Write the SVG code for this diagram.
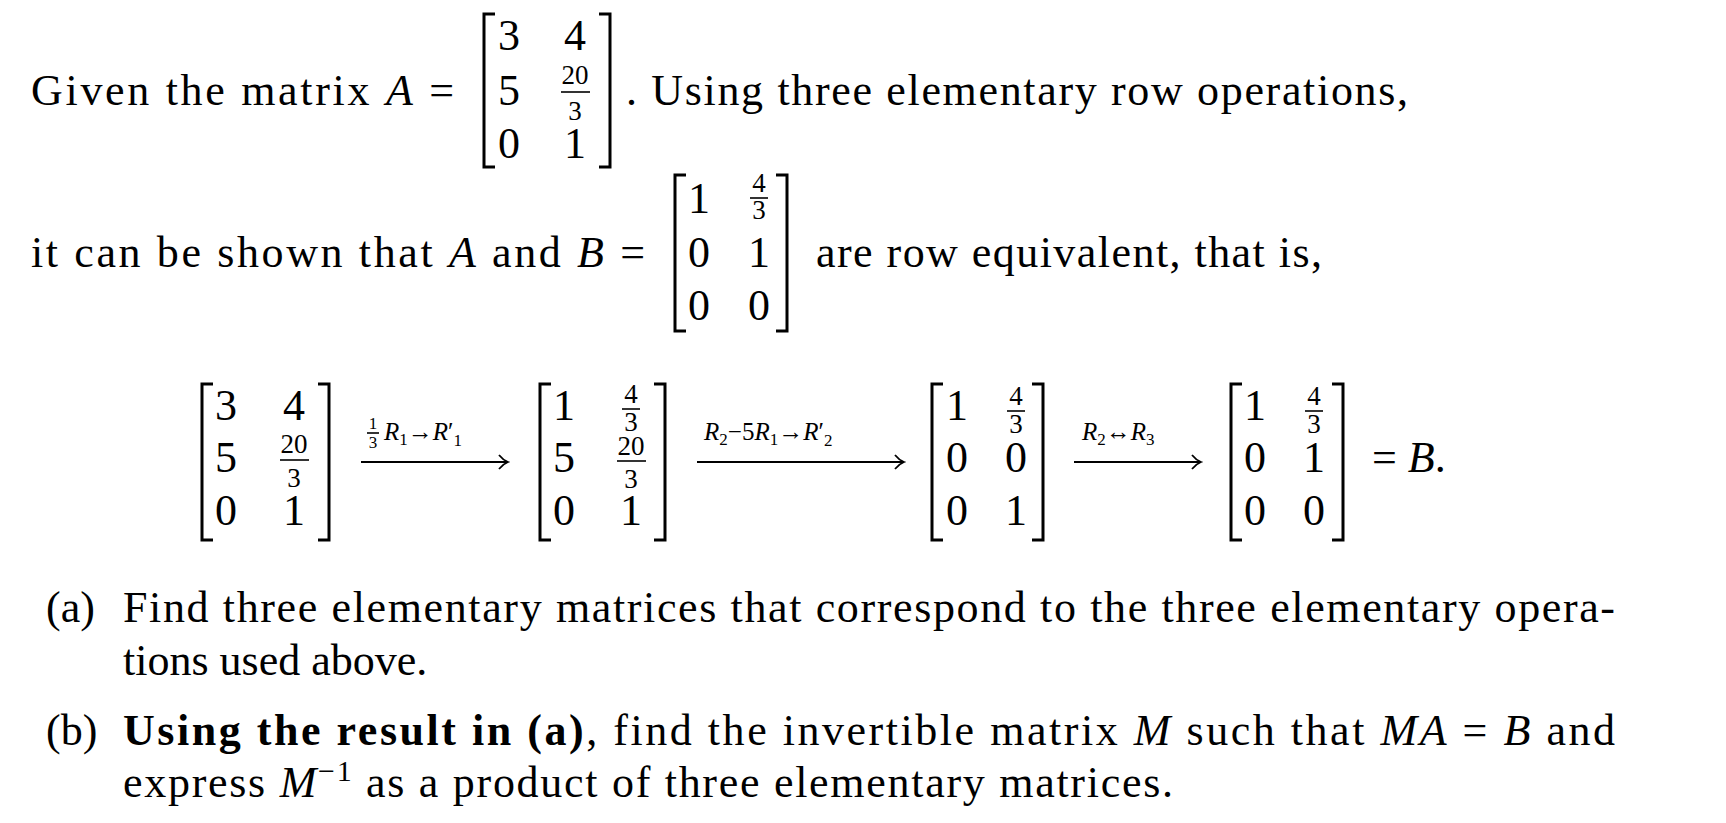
<svg xmlns="http://www.w3.org/2000/svg" width="1726" height="823" viewBox="0 0 1726 823">
<style>
text{font-family:"Liberation Serif","DejaVu Serif",serif;font-size:44px;fill:#000}
.m{text-anchor:middle}
.s{font-size:27px}
.l{font-size:25px}
.t{font-size:17px}
.i{font-style:italic}
.b{font-weight:bold}
.br{fill:none;stroke:#000;stroke-width:3}
.fl{stroke:#000;stroke-width:1.6}
.ar{fill:none;stroke:#000;stroke-width:1.8}
</style>
<rect width="1726" height="823" fill="#fff"/>
<g id="line1">
<text x="31" y="105" textLength="423" lengthAdjust="spacing">Given the matrix <tspan class="i">A</tspan> =</text>
<path class="br" d="M495,14H484V167H495M599,14H610V167H599"/>
<text class="m" x="509" y="50">3</text><text class="m" x="575" y="50">4</text>
<text class="m" x="509" y="105">5</text>
<text class="m s" x="575" y="84">20</text><line class="fl" x1="561" y1="92" x2="590" y2="92"/><text class="m s" x="575" y="120">3</text>
<text class="m" x="509" y="158">0</text><text class="m" x="575" y="158">1</text>
<text x="626" y="105" textLength="782" lengthAdjust="spacing">. Using three elementary row operations,</text>
</g>
<g id="line2">
<text x="31" y="267" textLength="614" lengthAdjust="spacing">it can be shown that <tspan class="i">A</tspan> and <tspan class="i">B</tspan> =</text>
<path class="br" d="M686,175H675V331H686M776,175H787V331H776"/>
<text class="m" x="699" y="213">1</text>
<text class="m s" x="759" y="192">4</text><line class="fl" x1="750" y1="198" x2="768" y2="198"/><text class="m s" x="759" y="219">3</text>
<text class="m" x="699" y="267">0</text><text class="m" x="759" y="267">1</text>
<text class="m" x="699" y="320">0</text><text class="m" x="759" y="320">0</text>
<text x="816" y="267" textLength="506" lengthAdjust="spacing">are row equivalent, that is,</text>
</g>
<g id="chain">
<path class="br" d="M213,384H202V540H213M318,384H329V540H318"/>
<text class="m" x="226" y="420">3</text><text class="m" x="294" y="420">4</text>
<text class="m" x="226" y="472">5</text>
<text class="m s" x="294" y="453">20</text><line class="fl" x1="280" y1="460" x2="309" y2="460"/><text class="m s" x="294" y="487">3</text>
<text class="m" x="226" y="525">0</text><text class="m" x="294" y="525">1</text>

<text class="m t" x="373" y="429">1</text><line class="fl" x1="367" y1="433" x2="379" y2="433" stroke-width="1.2"/><text class="m t" x="373" y="448">3</text>
<text class="l" x="384" y="440"><tspan class="i">R</tspan><tspan font-size="17" dy="5">1</tspan><tspan dy="-5">→</tspan><tspan class="i">R</tspan>′<tspan font-size="17" dy="6">1</tspan></text>
<path class="ar" d="M361,462H508M499,455Q503,460 508,462Q503,464 499,469"/>

<path class="br" d="M551,384H540V540H551M654,384H665V540H654"/>
<text class="m" x="564" y="420">1</text>
<text class="m s" x="631" y="403">4</text><line class="fl" x1="622" y1="409" x2="640" y2="409"/><text class="m s" x="631" y="431">3</text>
<text class="m" x="564" y="472">5</text>
<text class="m s" x="631" y="455">20</text><line class="fl" x1="617" y1="461" x2="646" y2="461"/><text class="m s" x="631" y="488">3</text>
<text class="m" x="564" y="525">0</text><text class="m" x="631" y="525">1</text>

<text class="l" x="704" y="440"><tspan class="i">R</tspan><tspan font-size="17" dy="5">2</tspan><tspan dy="-5">−5</tspan><tspan class="i">R</tspan><tspan font-size="17" dy="5">1</tspan><tspan dy="-5">→</tspan><tspan class="i">R</tspan>′<tspan font-size="17" dy="6">2</tspan></text>
<path class="ar" d="M697,462H904M895,455Q899,460 904,462Q899,464 895,469"/>

<path class="br" d="M943,384H932V540H943M1032,384H1043V540H1032"/>
<text class="m" x="957" y="420">1</text>
<text class="m s" x="1016" y="405">4</text><line class="fl" x1="1007" y1="411" x2="1025" y2="411"/><text class="m s" x="1016" y="433">3</text>
<text class="m" x="957" y="472">0</text><text class="m" x="1016" y="472">0</text>
<text class="m" x="957" y="525">0</text><text class="m" x="1016" y="525">1</text>

<text class="l" x="1082" y="440"><tspan class="i">R</tspan><tspan font-size="17" dy="5">2</tspan><tspan dy="-5">↔</tspan><tspan class="i">R</tspan><tspan font-size="17" dy="5">3</tspan></text>
<path class="ar" d="M1074,462H1201M1192,455Q1196,460 1201,462Q1196,464 1192,469"/>

<path class="br" d="M1242,384H1231V540H1242M1332,384H1343V540H1332"/>
<text class="m" x="1255" y="420">1</text>
<text class="m s" x="1314" y="405">4</text><line class="fl" x1="1305" y1="411" x2="1323" y2="411"/><text class="m s" x="1314" y="433">3</text>
<text class="m" x="1255" y="472">0</text><text class="m" x="1314" y="472">1</text>
<text class="m" x="1255" y="525">0</text><text class="m" x="1314" y="525">0</text>
<text x="1372" y="472">= <tspan class="i">B</tspan>.</text>
</g>
<g id="parts">
<text x="46" y="622">(a)</text>
<text x="123" y="622" textLength="1492" lengthAdjust="spacing">Find three elementary matrices that correspond to the three elementary opera-</text>
<text x="123" y="675">tions used above.</text>
<text x="46" y="745">(b)</text>
<text x="123" y="745" textLength="1492" lengthAdjust="spacing"><tspan class="b">Using the result in (a)</tspan>, find the invertible matrix <tspan class="i">M</tspan> such that <tspan class="i">MA</tspan> = <tspan class="i">B</tspan> and</text>
<text x="123" y="797" textLength="1050" lengthAdjust="spacing">express <tspan class="i">M</tspan><tspan font-size="30" dy="-16">−1</tspan><tspan dy="16"> as a product of three elementary matrices.</tspan></text>
</g>
</svg>
